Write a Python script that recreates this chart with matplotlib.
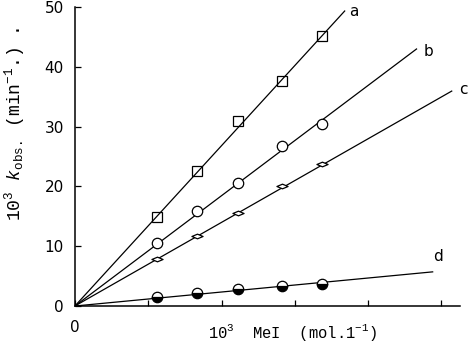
import matplotlib
matplotlib.use("Agg")
import matplotlib.pyplot as plt
import numpy as np
from matplotlib.path import Path

plt.rcParams['mathtext.fontset'] = 'custom'
plt.rcParams['mathtext.rm'] = 'Liberation Mono'
plt.rcParams['mathtext.it'] = 'Liberation Mono:italic'

# [MeI] x 10^3 (mol/l)
mei = [1.12, 1.67, 2.22, 2.82, 3.37]

# 10^3 k_obs (1/min) for the four series
k_a = [14.8, 22.5, 30.9, 37.6, 45.2]
k_b = [10.6, 15.9, 20.6, 26.7, 30.5]
k_c = [7.8, 11.7, 15.6, 20.0, 23.8]
k_d = [1.5, 2.2, 2.8, 3.4, 3.6]

# fitted slopes (lines through origin) and their x extent
slopes = {'a': 13.4, 'b': 9.22, 'c': 6.99, 'd': 1.17}
line_end = {'a': 3.68, 'b': 4.66, 'c': 5.14, 'd': 4.88}
label_pos = {'a': (3.81, 49.3), 'b': (4.82, 42.6), 'c': (5.30, 36.2), 'd': (4.95, 8.2)}

xticks = [0, 1, 2, 3, 4, 5]
yticks = [0, 10, 20, 30, 40, 50]

fig = plt.figure(figsize=(4.74, 3.45), dpi=100)
ax = fig.add_axes([0.158, 0.113, 0.812, 0.867])

for key in ['a', 'b', 'c', 'd']:
    xs = np.array([0.0, line_end[key]])
    ax.plot(xs, slopes[key] * xs, color='black', lw=0.9, zorder=1)
    ax.text(*label_pos[key], key, fontsize=11, family='DejaVu Sans',
            ha='center', va='center')

flat_diamond = Path([(-1, 0), (0, 0.42), (1, 0), (0, -0.42), (-1, 0)],
                    [Path.MOVETO, Path.LINETO, Path.LINETO, Path.LINETO, Path.CLOSEPOLY])

ax.plot(mei, k_a, ls='none', marker='s', ms=7, mfc='none', mec='black', mew=0.9, zorder=2)
ax.plot(mei, k_b, ls='none', marker='o', ms=7.5, mfc='white', mec='black', mew=0.9, zorder=2)
ax.plot(mei, k_c, ls='none', marker=flat_diamond, ms=8, mfc='white', mec='black', mew=0.9, zorder=2)
ax.plot(mei, k_d, ls='none', marker='o', ms=7.5, fillstyle='bottom', mfc='black',
        mfcalt='white', mec='black', mew=0.9, zorder=2)

ax.set_xlim(0, 5.25)
ax.set_ylim(0, 50)
ax.spines['top'].set_visible(False)
ax.spines['right'].set_visible(False)
for s in ['left', 'bottom']:
    ax.spines[s].set_linewidth(1.1)

ax.set_xticks(xticks)
ax.set_xticklabels(['0'] + [''] * (len(xticks) - 1))
ax.tick_params(axis='x', direction='in', length=4, width=0.9, pad=10, labelsize=11)
ax.set_yticks(yticks)
ax.tick_params(axis='y', direction='in', length=4, width=0.9, pad=8, labelsize=11)

ax.set_xlabel('10$^{3}$  MeI  (mol.1$^{-1}$)', fontsize=11.2, family='Liberation Mono')
ax.xaxis.set_label_coords(0.565, -0.055)
ax.set_ylabel('10$^{3}$ $k_{\\rm obs.}$ (min$^{-1}$.) .', fontsize=13, family='Liberation Mono')
ax.yaxis.set_label_coords(-0.125, 0.61)

fig.savefig('out.png', dpi=100)
